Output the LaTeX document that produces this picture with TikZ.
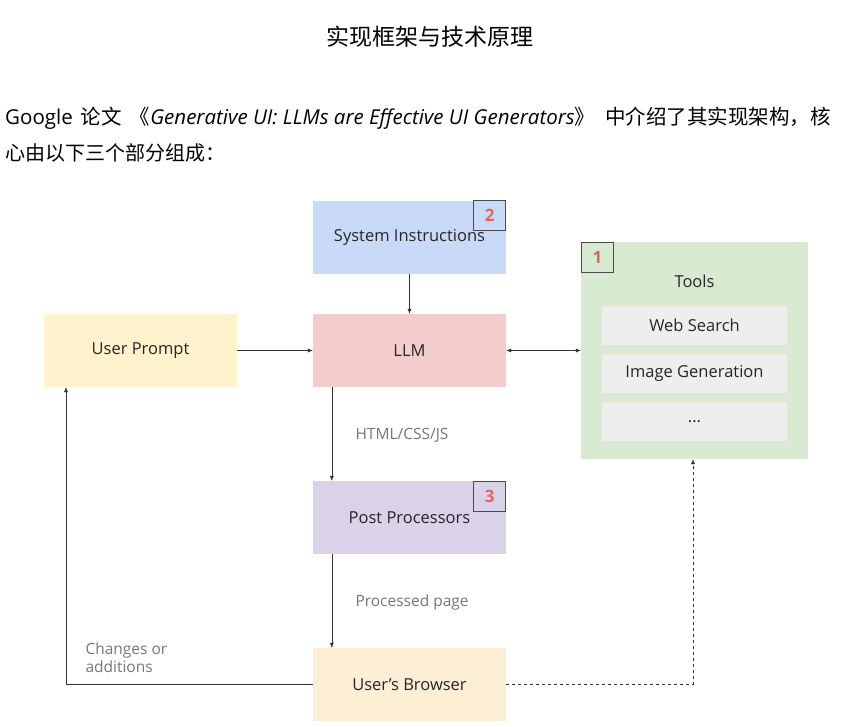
\documentclass[tikz,border=0pt]{standalone}
\usepackage{fontspec}
\setmainfont{Open Sans}
\newfontfamily\cjk{Noto Sans CJK SC}
\usetikzlibrary{arrows.meta}
\definecolor{siblue}{HTML}{C9DAF8}
\definecolor{llmpink}{HTML}{F4CCCC}
\definecolor{upyellow}{HTML}{FFF2CC}
\definecolor{toolgreen}{HTML}{D9EAD3}
\definecolor{subgray}{HTML}{EEEEEE}
\definecolor{pplav}{HTML}{D9D2E9}
\definecolor{brorange}{HTML}{FCEFD6}
\definecolor{badgered}{HTML}{E06666}
\definecolor{labgray}{HTML}{777777}
\tikzset{
  blk/.style = {inner sep=0pt, minimum width=193pt, minimum height=73pt,
    font=\fontsize{16.5}{18}\selectfont, text=black!85},
  sub/.style = {fill=subgray, inner sep=0pt, minimum width=185pt, minimum height=39pt,
    font=\fontsize{16.5}{18}\selectfont, text=black!85},
  badge/.style = {draw=black!70, thick, inner sep=0pt, minimum width=32pt, minimum height=30pt,
    font=\fontsize{17}{18}\selectfont\bfseries, text=badgered},
  lab/.style = {font=\fontsize{15.5}{18}\selectfont, text=labgray},
  arr/.style = {-{Latex[length=5pt,width=4pt]}, black!80, thin},
}
\begin{document}
\begin{tikzpicture}[x=1pt,y=-1pt]
\useasboundingbox (0,0) rectangle (867,726);
\fill[white] (0,0) rectangle (867,726);
% heading and text
\node (title) at (430,37) {\cjk\fontsize{23}{24}\selectfont 实现框架与技术原理};
\node[anchor=west, inner sep=0pt] (para1) at (5,118) {\fontsize{20.5}{22}\selectfont Google\hspace{8pt}{\cjk 论文}\hspace{8pt}{\cjk 《}\textit{Generative UI: LLMs are Effective UI Generators}{\cjk 》}\hspace{10pt}{\cjk 中介绍了其实现架构，核}};
\node[anchor=west, inner sep=0pt] (para2) at (5,153) {\cjk\fontsize{20}{22}\selectfont 心由以下三个部分组成：};
% blocks
\node[blk, fill=siblue] (si) at (409.5,237) {System Instructions};
\node[badge, anchor=north east] (b2) at (506,200) {2};
\node[blk, fill=llmpink] (llm) at (409.5,350.5) {LLM};
\node[blk, fill=upyellow] (up) at (140.5,350.5) {User Prompt};
\node[blk, fill=pplav] (pp) at (409.5,517.5) {Post Processors};
\node[badge, anchor=north east] (b3) at (506,481) {3};
\node[blk, fill=brorange] (br) at (409.5,684.5) {User's Browser};
% tools
\node[fill=toolgreen, inner sep=0pt, minimum width=227pt, minimum height=217pt] (tools) at (694.5,350.5) {};
\node[badge, anchor=north west] (b1) at (581,242) {1};
\node[font=\fontsize{16.5}{18}\selectfont, text=black!85] (tt) at (694.5,281) {Tools};
\node[sub] (ws) at (694.5,325.5) {Web Search};
\node[sub] (ig) at (694.5,373.5) {Image Generation};
\node[sub] (dots) at (694.5,421.5) {...};
% connectors
\draw[arr] (si) -- (llm);
\draw[arr] (up) -- (llm);
\draw[arr, {Latex[length=5pt,width=4pt]}-{Latex[length=5pt,width=4pt]}] (llm) -- (tools);
\draw[arr] (llm.south west) ++(19,0) coordinate (a1) -- (a1 |- pp.north);
\node[lab, anchor=west] (l1) at (352,435) {HTML/CSS/JS};
\draw[arr] (pp.south west) ++(19,0) coordinate (a2) -- (a2 |- br.north);
\node[lab, anchor=west] (l2) at (352,602) {Processed page};
\coordinate (c1) at (66,684.5);
\draw[arr] (br) -- (c1) -- (c1 |- up.south);
\node[lab, anchor=west, align=left] (l3) at (82,658) {Changes or\\additions};
\coordinate (c2) at (693,684.5);
\draw[arr, dashed] (br) -- (c2) -- (c2 |- tools.south);
\end{tikzpicture}
\end{document}
